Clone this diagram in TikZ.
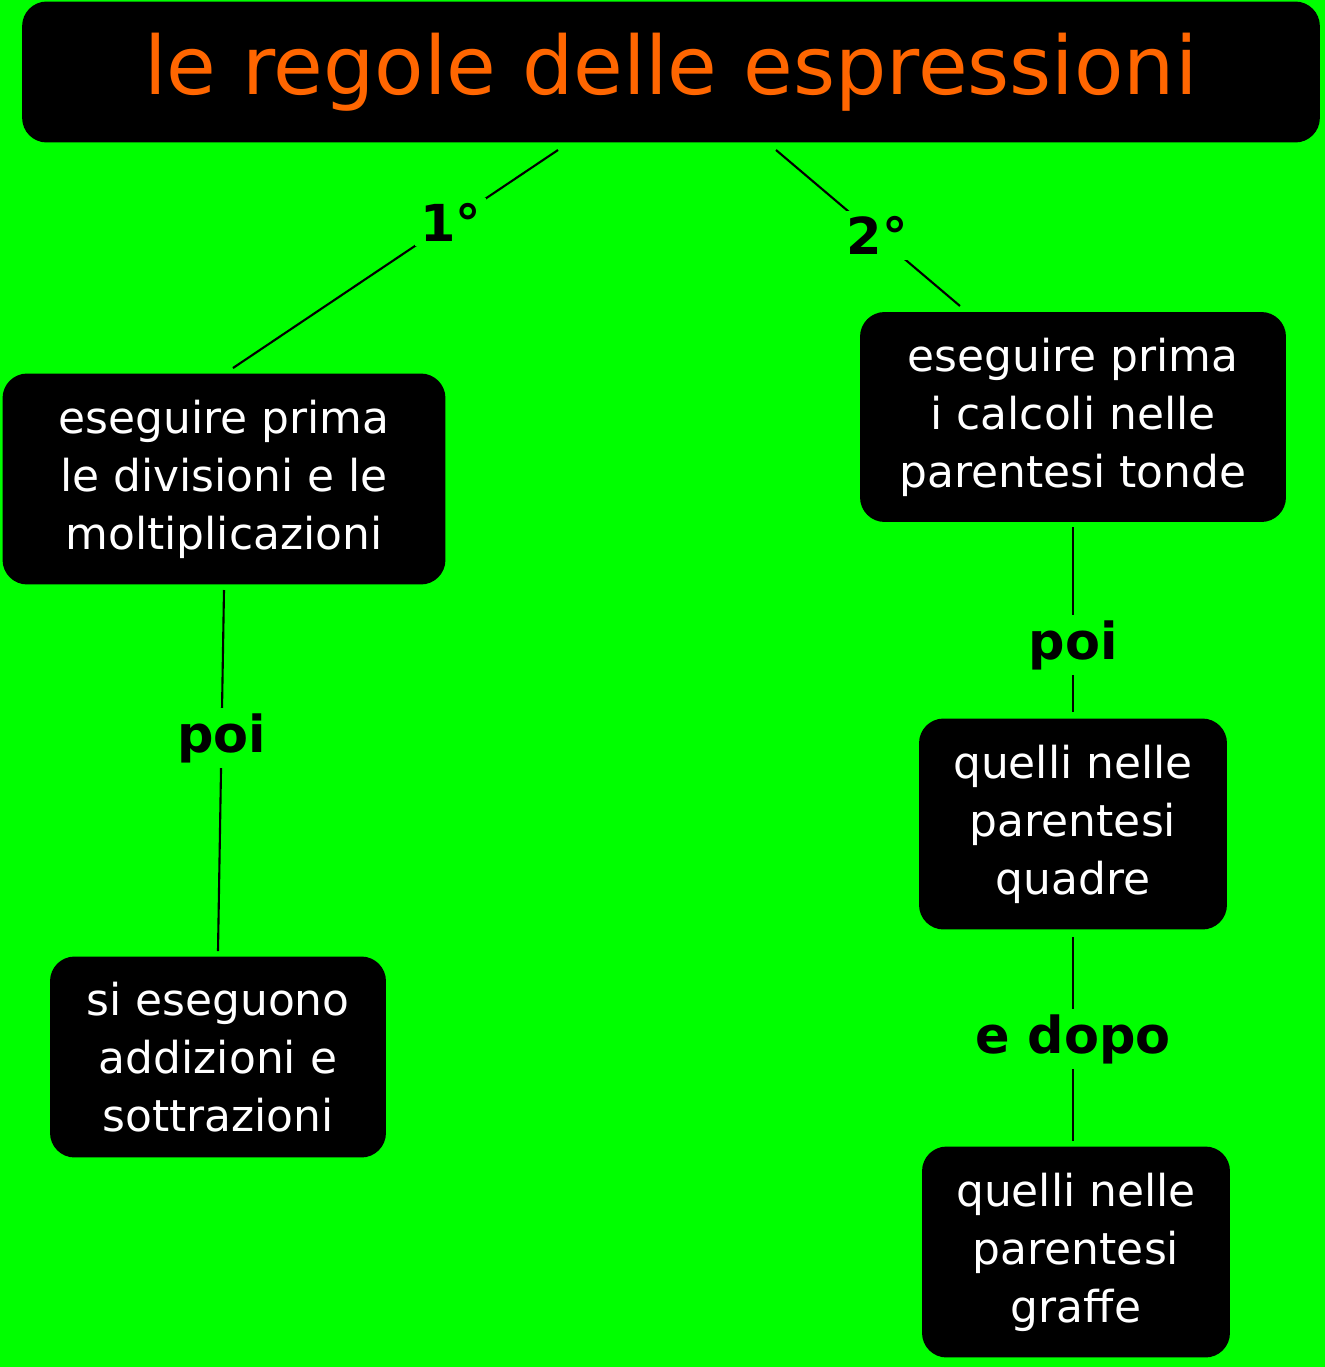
\documentclass[tikz,border=0pt]{standalone}
\usepackage{fontspec}
\setmainfont{DejaVu Sans}
\definecolor{bg}{HTML}{00FF00}
\definecolor{tit}{HTML}{FF6600}

\begin{document}
\begin{tikzpicture}[x=0.02cm, y=-0.02cm, line width = 1.2pt,
    box/.style = {fill=black, text=white, rounded corners=14pt, align=center,
        font=\fontsize{25}{33}\selectfont},
    lab/.style = {fill=bg, text=black, inner sep=3pt, font=\fontsize{29}{33}\selectfont\bfseries}]
\fill[bg] (0,0) rectangle (1325,1367);
\useasboundingbox (0,0) rectangle (1325,1367);

\node[box, minimum width=25.96cm, minimum height=2.82cm, text=tit,
    font=\fontsize{46}{50}\selectfont] (title) at (671,72) {le regole delle espressioni};
\node[box, minimum width=8.86cm, minimum height=4.22cm] (div) at (224,479)
    {eseguire prima\\le divisioni e le\\moltiplicazioni};
\node[box, minimum width=6.72cm, minimum height=4.02cm] (add) at (218,1057)
    {si eseguono\\addizioni e\\sottrazioni};
\node[box, minimum width=8.52cm, minimum height=4.2cm] (tonde) at (1073,417)
    {eseguire prima\\i calcoli nelle\\parentesi tonde};
\node[box, minimum width=6.16cm, minimum height=4.22cm] (quadre) at (1073,824)
    {quelli nelle\\parentesi\\quadre};
\node[box, minimum width=6.16cm, minimum height=4.22cm] (graffe) at (1076,1252)
    {quelli nelle\\parentesi\\graffe};

% estremi dei collegamenti
\coordinate (t1) at (558,150);
\coordinate (t2) at (776,150);
\coordinate (d1) at (233,368);
\coordinate (d2) at (224,590);
\coordinate (a1) at (218,951);
\coordinate (p1) at (960,306);
\coordinate (p2) at (1073,527);
\coordinate (q1) at (1073,712);
\coordinate (q2) at (1073,937);
\coordinate (g1) at (1073,1141);

\draw (t1) -- (d1) node[lab, pos=0.33] (l1) {1°};
\draw (t2) -- (p1) node[lab, pos=0.55] (l2) {2°};
\draw (d2) -- (a1) node[lab, pos=0.41] (l3) {poi};
\draw (p2) -- (q1) node[lab, pos=0.64] (l4) {poi};
\draw (q2) -- (g1) node[lab, pos=0.5] (l5) {e dopo};
\end{tikzpicture}
\end{document}
